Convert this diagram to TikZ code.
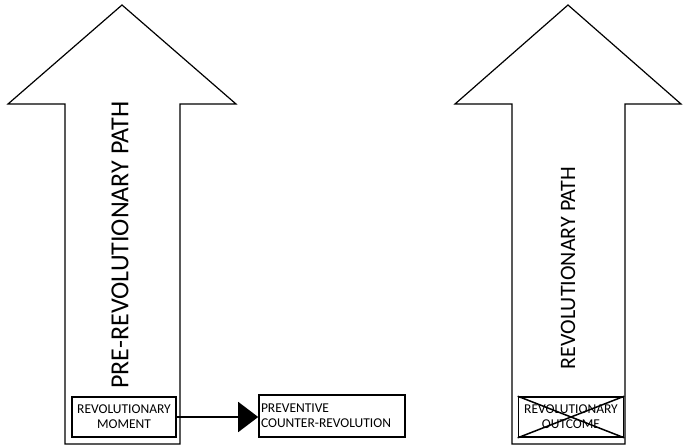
\documentclass[tikz,border=0pt]{standalone}
\usepackage{fontspec}
\setmainfont{Carlito}
\usetikzlibrary{arrows.meta}
\begin{document}
\begin{tikzpicture}[x=1pt,y=-1pt,
  bigarrow/.style={draw,line width=1.2pt,line join=miter},
  box/.style={draw,line width=1.6pt,inner sep=0pt,font=\fontsize{13.5}{15}\selectfont},
  path label/.style={rotate=90}]
\useasboundingbox (0,0) rectangle (685,447);
\draw[bigarrow] (65,444) -- (65,104) -- (8,104) -- (122,5) -- (236,104) -- (180,104) -- (180,444) -- cycle;
\draw[bigarrow] (512,444) -- (512,104) -- (455,104) -- (568,5) -- (681,104) -- (625,104) -- (625,444) -- cycle;
\node[path label,font=\fontsize{26}{28}\selectfont] (pl) at (120,245) {PRE-REVOLUTIONARY PATH};
\node[path label,font=\fontsize{22}{24}\selectfont] (rl) at (568,268) {REVOLUTIONARY PATH};
\node[box,minimum width=104,minimum height=40,align=center] (rm) at (124,417) {REVOLUTIONARY\\MOMENT};
\node[box,minimum width=146,minimum height=42,align=left,text width=142] (pc) at (332,416) {PREVENTIVE\\COUNTER-REVOLUTION};
\node[box,minimum width=105,minimum height=40,align=center] (ro) at (571,417) {REVOLUTIONARY\\OUTCOME};
\draw[line width=1.5pt] (ro.north west) -- (ro.south east) (ro.south west) -- (ro.north east);
\draw[line width=1.6pt,-{Triangle[length=20pt,width=30pt]}] (rm.east) -- (rm.east -| pc.west);
\end{tikzpicture}
\end{document}
